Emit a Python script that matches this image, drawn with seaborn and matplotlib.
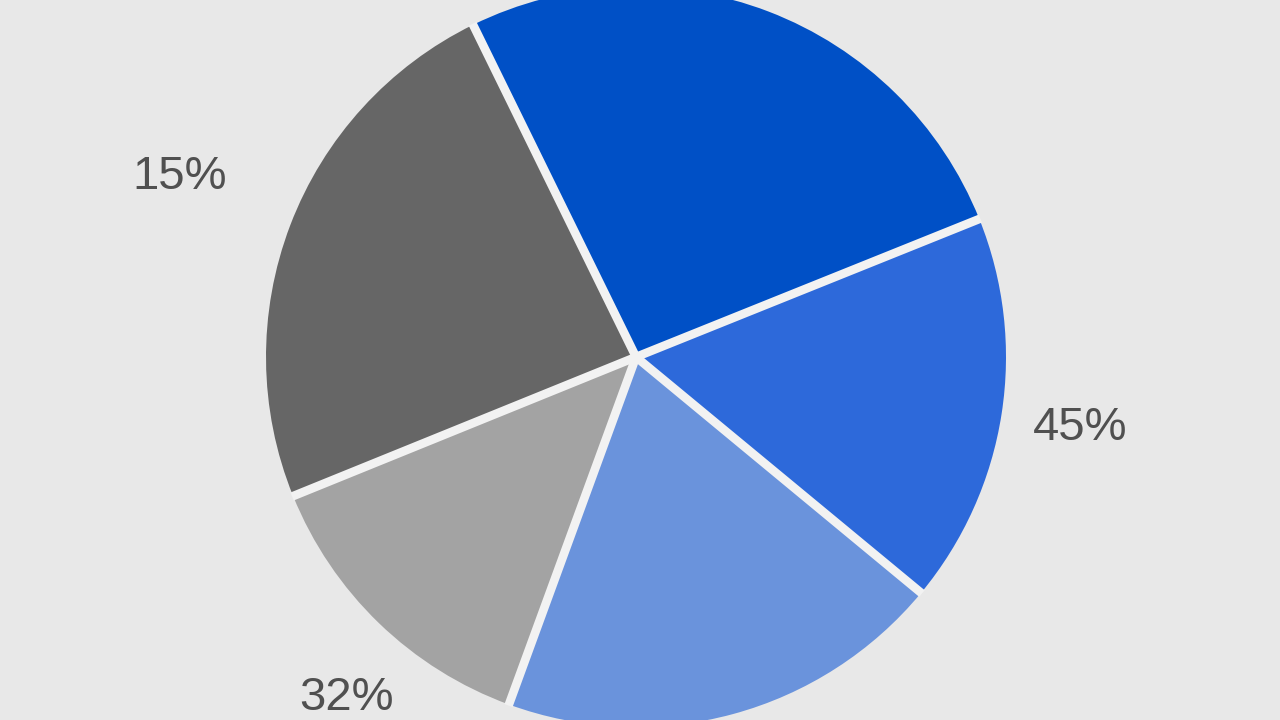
import numpy as np
import matplotlib
matplotlib.use("Agg")
import matplotlib.pyplot as plt
import seaborn as sns

# Data (slice shares, counterclockwise starting from the dark-blue slice)
categories = ["A", "B", "C", "D", "E"]
values = [26.2, 23.9, 13.3, 19.6, 17.1]
labels = ["", "15%", "32%", "", "45%"]
label_dist = [1.2, 1.327, 1.206, 1.2, 1.214]
label_shift = [0, -0.8, 3.5, 0, 0]  # degrees
colors = ["#0050c6", "#666666", "#a3a3a3", "#6a93dc", "#2d69da"]

BG = "#e8e8e8"
SEP = "#f2f2f2"
sns.set_theme(style="white", rc={"figure.facecolor": BG, "axes.facecolor": BG})
plt.rcParams["font.family"] = ["Liberation Sans", "DejaVu Sans"]

fig = plt.figure(figsize=(12.8, 7.2), dpi=100)
ax = fig.add_axes([0, 0, 1, 1])
ax.set_facecolor(BG)

cx, cy, R = 636, 720 - 357, 370
start = 21.9
wedges, _ = ax.pie(values, colors=colors, startangle=start, counterclock=True,
                   center=(cx, cy), radius=R, frame=True,
                   wedgeprops=dict(linewidth=0))

# separator lines along wedge boundaries
for w in wedges:
    t = np.deg2rad(w.theta1)
    ax.plot([cx, cx + R * 1.003 * np.cos(t)], [cy, cy + R * 1.003 * np.sin(t)],
            color=SEP, lw=6.2, solid_capstyle="butt", zorder=3)

for w, lab, d, s in zip(wedges, labels, label_dist, label_shift):
    if lab:
        ang = (w.theta1 + w.theta2) / 2 + s
        t = np.deg2rad(ang)
        ax.text(cx + R * d * np.cos(t), cy + R * d * np.sin(t) - 2, lab,
                ha="center", va="center", fontsize=34, color="#505050")

ax.set_xlim(0, 1280)
ax.set_ylim(0, 720)
ax.set_aspect("equal")
ax.axis("off")
fig.savefig("out.png", dpi=100, facecolor=BG)
